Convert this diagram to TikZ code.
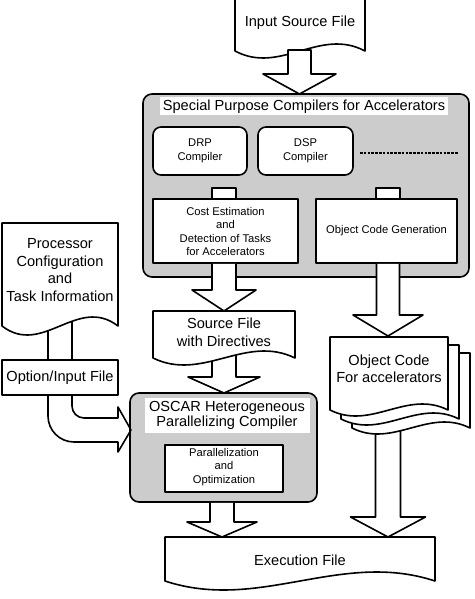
\documentclass[tikz,border=0pt]{standalone}
\usepackage{fontspec}
\setmainfont{Liberation Sans}
\tikzset{
  ln/.style={line width=1.6pt, line join=round, draw=black},
  boxst/.style={ln, fill=white},
  grp/.style={ln, fill=black!20, rounded corners=9pt},
  rbox/.style={ln, fill=white, rounded corners=8pt},
  big/.style={font=\fontsize{14.6}{17.5}\selectfont, align=center, inner sep=0pt},
  small/.style={font=\fontsize{11.2}{13.6}\selectfont, align=center, inner sep=0pt},
  dashline/.style={line width=1.8pt, dash pattern=on 2.6pt off 1.2pt}
}
% document shape: x1, ytop, x2, ybottom, amplitude
\newcommand\docshp[5]{%
  \draw[boxst] (#1,#4) -- (#1,#2) -- (#3,#2) -- (#3,#4)
    .. controls ({#1+0.65*(#3-#1)},{#4-3.46*#5}) and ({#1+0.35*(#3-#1)},{#4+3.46*#5}) .. (#1,#4) -- cycle;}
% block arrow (open top): xc, ystart, ybase, ytip, shaft half, head half
\newcommand\blkarrow[6]{%
  \draw[boxst] ({#1-#5},#2) -- ({#1-#5},#3) -- ({#1-#6},#3) -- (#1,#4) -- ({#1+#6},#3) -- ({#1+#5},#3) -- ({#1+#5},#2);}
\newcommand\blkarrowc[6]{%
  \draw[boxst] ({#1-#5},#2) -- ({#1-#5},#3) -- ({#1-#6},#3) -- (#1,#4) -- ({#1+#6},#3) -- ({#1+#5},#3) -- ({#1+#5},#2) -- cycle;}
\begin{document}
\begin{tikzpicture}[x=1pt,y=-1pt]
\useasboundingbox (0,0) rectangle (474,599);

% ---------- Special purpose compilers group
\draw[grp] (143,94) rectangle (469,277);
\fill[white] (160,97) rectangle (448,115);
\node[big] (spc) at (304,106.5) {Special Purpose Compilers for Accelerators};
\draw[rbox] (153,127) rectangle (247,175);
\node[small] (drp) at (200,151) {DRP\\Compiler};
\draw[rbox] (258,127) rectangle (353,175);
\node[small] (dsp) at (305.5,151) {DSP\\Compiler};
\coordinate (dl1) at (360,153);
\coordinate (dl2) at (458,153);
\draw[dashline] (dl1) -- (dl2);
\draw[boxst] (212,188) rectangle (236,199);
\draw[boxst] (376,188) rectangle (400,199);
\draw[boxst] (153,199) rectangle (298,263);
\node[small] (cost) at (225.5,231.5) {Cost Estimation\\and\\Detection of Tasks\\for Accelerators};
\draw[boxst] (316,199) rectangle (457,263);
\node[small] (ocg) at (386.5,231) {Object Code Generation};

% ---------- Input source file
\docshp{235}{-3}{365}{51}{7}
\node[big] (inp) at (300,23) {Input Source File};
\blkarrowc{299.5}{50}{74}{94}{11.5}{36.5}

% arrows out of the group
\blkarrow{224}{263.8}{290}{311}{12}{32}
\blkarrow{388}{263.8}{315}{336}{11.5}{35}

% ---------- Source file with directives
\blkarrow{224}{350}{377}{393}{12}{36}
\docshp{153}{311}{295}{358}{7}
\node[big] (src) at (224,332.5) {Source File\\with Directives};

% ---------- Object code stack
\blkarrow{388}{425}{517}{537}{12.5}{37.5}
\docshp{352}{353}{470}{428}{6}
\docshp{341}{345}{459}{419}{6}
\docshp{330}{337}{448}{410}{6}
\node[big] (obj) at (389,369) {Object Code\\For accelerators};

% ---------- OSCAR compiler
\draw[grp] (130,393) rectangle (317,502);
\fill[white] (145,398) rectangle (310,433);
\node[big] (osc) at (227,415.5) {OSCAR Heterogeneous\\[-2.5pt]Parallelizing Compiler};
\draw[boxst] (165,445) rectangle (283,492);
\node[small] (par) at (224,467) {Parallelization\\and\\Optimization};

% ---------- Execution file
\blkarrow{222}{502.8}{522}{537}{12}{35}
\docshp{165}{537}{435}{581}{9}
\node[big] (exe) at (300,560) {Execution File};

% ---------- Processor configuration and option file
\draw[ln] (48,330) -- (48,360);
\draw[ln] (72,322) -- (72,360);
\docshp{2}{223}{118}{326}{9}
\node[big] (proc) at (60,270) {Processor\\Configuration\\and\\Task Information};
\draw[boxst] (2,360) rectangle (118,395);
\node[big] (opt) at (60,378) {Option/Input File};

% curved block arrow into OSCAR
\draw[ln, rounded corners=26pt] (48,395.8) |- (118.4,442);
\draw[ln, rounded corners=12pt] (72,395.8) |- (118.4,418);
\draw[ln] (118,442) -- (118,452) -- (131,430) -- (118,407) -- (118,418);
\end{tikzpicture}
\end{document}
